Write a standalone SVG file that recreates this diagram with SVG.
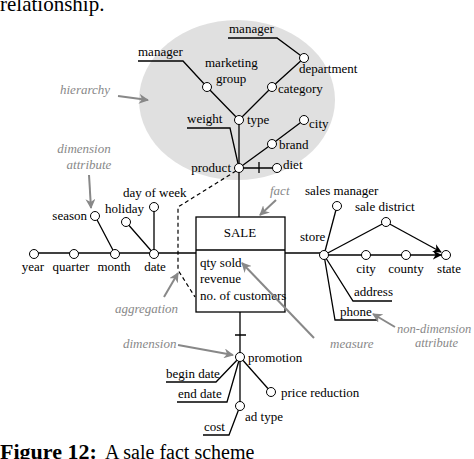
<svg xmlns="http://www.w3.org/2000/svg" width="474" height="459" viewBox="0 0 474 459">
<style>
text{font-family:"Liberation Serif","Times New Roman",serif;font-size:13px;fill:#000}
.g{font-style:italic;fill:#888}
.big{font-size:21px}
.n{fill:#fff;stroke:#000;stroke-width:1}
.l{stroke:#000;stroke-width:1.3;fill:none}
.d{stroke:#000;stroke-width:1.2;fill:none;stroke-dasharray:4 3}
.ga{stroke:#888;stroke-width:2;fill:none;marker-end:url(#ga)}
</style>
<defs>
<marker id="ga" viewBox="0 0 10 10" refX="9" refY="5" markerWidth="5" markerHeight="5" orient="auto" markerUnits="strokeWidth"><path d="M0,0L10,5L0,10L3,5z" fill="#888"/></marker>
<marker id="ba" viewBox="0 0 10 10" refX="9" refY="5" markerWidth="9" markerHeight="9" orient="auto" markerUnits="userSpaceOnUse"><path d="M0,0L10,5L0,10L3,5z" fill="#000"/></marker>
</defs>
<rect width="474" height="459" fill="#fff"/>
<text x="0" y="11" class="big">relationship.</text>
<ellipse cx="237" cy="100" rx="98" ry="80" fill="#e0e0e0"/>

<g id="connectors">
<path class="l" d="M138,61H183L207,87L239,120"/>
<path class="l" d="M228,38H277L304,58L272,87L239,120"/>
<path class="l" d="M239,120V217"/>
<path class="l" d="M187,128H230L239,168"/>
<path class="l" d="M239,168L272,144L304,120"/>
<path class="l" d="M239,168H277M259,162V173"/>
<path class="d" d="M236,171L178,207V270L195,297"/>
<path class="l" d="M34,253H196"/>
<path class="l" d="M95,216L115,254M126,222L154,254M154,207V254"/>
<path class="l" d="M285,253H324"/>
<path class="l" d="M324,255L337,206"/>
<path class="l" d="M324,255L386,222"/>
<path class="l" d="M386,222L441,252" stroke-width="1.6" marker-end="url(#ba)"/>
<path class="l" d="M324,255H441" marker-end="url(#ba)"/>
<path class="l" d="M324,255L353,301H392"/>
<path class="l" d="M324,255L335,320H378"/>
<path class="l" d="M240,312V357M235,335H246"/>
<path class="l" d="M240,357V406"/>
<path class="l" d="M166,382H216L240,357"/>
<path class="l" d="M177,402H227L240,357"/>
<path class="l" d="M240,357L271,392"/>
<path class="l" d="M203,435H229L240,406"/>
</g>

<g id="sale">
<rect x="196" y="217" width="89" height="95" fill="#fff" stroke="#000" stroke-width="1.3"/>
<line x1="196" y1="250" x2="285" y2="250" stroke="#000" stroke-width="1.3"/>
<text x="240" y="237" text-anchor="middle">SALE</text>
<text x="200" y="267">qty sold</text>
<text x="200" y="283">revenue</text>
<text x="200" y="300">no. of customers</text>
</g>

<g id="manager1"><text x="138" y="56">manager</text></g>
<g id="marketing-group"><circle class="n" cx="207" cy="87" r="4.5"/><text x="205" y="67">marketing</text><text x="216" y="83">group</text></g>
<g id="manager2"><text x="229" y="33">manager</text></g>
<g id="department"><circle class="n" cx="304" cy="58" r="4.5"/><text x="299" y="73">department</text></g>
<g id="category"><circle class="n" cx="272" cy="87" r="4.5"/><text x="278" y="93">category</text></g>
<g id="type"><circle class="n" cx="239" cy="120" r="4.5"/><text x="247" y="124">type</text></g>
<g id="weight"><text x="187" y="123">weight</text></g>
<g id="city1"><circle class="n" cx="304" cy="120" r="4.5"/><text x="309" y="128">city</text></g>
<g id="brand"><circle class="n" cx="272" cy="144" r="4.5"/><text x="279" y="149">brand</text></g>
<g id="product"><circle class="n" cx="239" cy="168" r="4.5"/><text x="231" y="172" text-anchor="end">product</text></g>
<g id="diet"><circle class="n" cx="277" cy="168" r="4.5"/><text x="283" y="169">diet</text></g>

<g id="year"><circle class="n" cx="34" cy="254" r="4.5"/><text x="33" y="271" text-anchor="middle">year</text></g>
<g id="quarter"><circle class="n" cx="74" cy="254" r="4.5"/><text x="71" y="271" text-anchor="middle">quarter</text></g>
<g id="month"><circle class="n" cx="115" cy="254" r="4.5"/><text x="114" y="271" text-anchor="middle">month</text></g>
<g id="date"><circle class="n" cx="154" cy="254" r="4.5"/><text x="155" y="271" text-anchor="middle">date</text></g>
<g id="season"><circle class="n" cx="95" cy="216" r="4.5"/><text x="87" y="220" text-anchor="end">season</text></g>
<g id="holiday"><circle class="n" cx="126" cy="222" r="4.5"/><text x="105" y="213">holiday</text></g>
<g id="day-of-week"><circle class="n" cx="154" cy="207" r="4.5"/><text x="123" y="197">day of week</text></g>

<g id="store"><circle class="n" cx="324" cy="255" r="4.5"/><text x="300" y="241">store</text></g>
<g id="sales-manager"><circle class="n" cx="337" cy="206" r="4.5"/><text x="305" y="195">sales manager</text></g>
<g id="sale-district"><circle class="n" cx="386" cy="222" r="4.5"/><text x="355" y="211">sale district</text></g>
<g id="city2"><circle class="n" cx="366" cy="255" r="4.5"/><text x="366" y="273" text-anchor="middle">city</text></g>
<g id="county"><circle class="n" cx="406" cy="255" r="4.5"/><text x="406" y="273" text-anchor="middle">county</text></g>
<g id="state"><circle class="n" cx="446" cy="255" r="4.5"/><text x="449" y="273" text-anchor="middle">state</text></g>
<g id="address"><text x="354" y="296">address</text></g>
<g id="phone"><text x="340" y="316">phone</text></g>

<g id="promotion"><circle class="n" cx="240" cy="357" r="4.5"/><text x="248" y="362">promotion</text></g>
<g id="begin-date"><text x="166" y="378">begin date</text></g>
<g id="end-date"><text x="178" y="398">end date</text></g>
<g id="price-reduction"><circle class="n" cx="271" cy="392" r="4.5"/><text x="281" y="397">price reduction</text></g>
<g id="ad-type"><circle class="n" cx="240" cy="406" r="4.5"/><text x="245" y="421">ad type</text></g>
<g id="cost"><text x="204" y="431">cost</text></g>

<g id="annotation-arrows">
<path class="ga" d="M118,96L148,100"/>
<path class="ga" d="M89,175L91,208"/>
<path class="ga" d="M276,200L260,215"/>
<path class="ga" d="M164,297L178,273"/>
<path class="ga" d="M314,338L242,263"/>
<path class="ga" d="M395,327L373,314"/>
<path class="ga" d="M178,345L233,355"/>
</g>

<g id="labels">
<text x="60" y="94" class="g">hierarchy</text>
<text x="84" y="153" class="g" text-anchor="middle">dimension</text>
<text x="89" y="169" class="g" text-anchor="middle">attribute</text>
<text x="270" y="195" class="g">fact</text>
<text x="115" y="313" class="g">aggregation</text>
<text x="123" y="348" class="g">dimension</text>
<text x="330" y="348" class="g">measure</text>
<text x="397" y="333" class="g" style="font-size:12.5px">non-dimension</text>
<text x="415" y="347" class="g" style="font-size:12.5px">attribute</text>
</g>

<text x="0" y="459" style="font-size:22px" font-weight="bold">Figure 12:</text>
<text x="105" y="459" style="font-size:20px">A sale fact scheme</text>
</svg>
